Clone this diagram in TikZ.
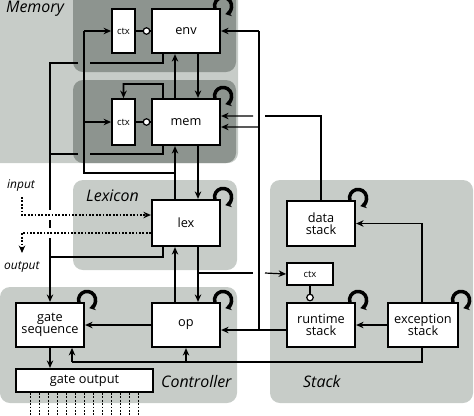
\documentclass[tikz,border=0pt]{standalone}
\usepackage{fontspec}
\setmainfont{Open Sans}
\usetikzlibrary{arrows.meta,calc}
\definecolor{lightreg}{RGB}{199,204,200}
\definecolor{darkreg}{RGB}{141,148,143}
\tikzset{
 box/.style={draw, line width=2.2bp, fill=white, inner sep=0pt, minimum width=68bp, minimum height=44bp, align=center, font=\fontsize{12.8}{14}\selectfont},
 ctxbox/.style={draw, line width=1.8bp, fill=white, inner sep=0pt, font=\fontsize{9.5}{11}\selectfont},
 lbl/.style={font=\fontsize{16}{18}\selectfont\itshape, inner sep=0pt},
 io/.style={font=\fontsize{12}{14}\selectfont\itshape, inner sep=0pt},
 arr/.style={line width=1.8bp, -{Stealth[length=7.5bp,width=6.5bp]}},
 thinarr/.style={line width=1.2bp, -{Stealth[length=7.5bp,width=6.5bp]}},
 thinline/.style={line width=1.2bp},
 dotline/.style={line width=1.3bp, dash pattern=on 1.8bp off 1.6bp},
 dotarr/.style={line width=1.3bp, dash pattern=on 1.8bp off 1.6bp, -{Stealth[length=7.5bp,width=6.5bp]}},
 loopline/.style={line width=3.5bp, -{Stealth[length=6bp,width=7.5bp]}},
 knob/.style={circle, draw, line width=1.2bp, fill=white, inner sep=0pt, minimum size=6.5bp},
}
\newcommand\selfloopat[1]{\draw[loopline] ([xshift=-6.3bp]#1.north east) arc[start angle=193.6, end angle=-75, radius=8.5bp];}
\begin{document}
\begin{tikzpicture}[x=1bp,y=-1bp]
\useasboundingbox (0,0) rectangle (474,415);
% regions
\fill[lightreg, rounded corners=10bp] (-12,-12) rectangle (238,163);
\fill[darkreg, rounded corners=10bp] (73,-12) rectangle (236,72);
\fill[darkreg, rounded corners=10bp] (73,80) rectangle (236,163);
\fill[lightreg, rounded corners=10bp] (73,180) rectangle (237,270);
\fill[lightreg, rounded corners=10bp] (0,287) rectangle (237,403);
\fill[lightreg, rounded corners=10bp] (270,180) rectangle (473,403);
% region labels
\node[lbl, anchor=base west] (tmem) at (6,12) {Memory};
\node[lbl, anchor=base west] (tlex) at (86,201) {Lexicon};
\node[lbl, anchor=base west] (tctl) at (161,387) {Controller};
\node[lbl, anchor=base west] (tstk) at (303,387) {Stack};
\node[io, anchor=base west] (tin) at (7,188) {input};
\node[io, anchor=base west] (tout) at (4,269) {output};
% boxes
\node[ctxbox, minimum width=23bp, minimum height=44bp] (ctxA) at (123.5,31) {ctx};
\node[box] (env) at (186,31) {env};
\node[ctxbox, minimum width=23bp, minimum height=46bp] (ctxB) at (123.5,122) {ctx};
\node[box, minimum height=46bp] (mem) at (186,122) {mem};
\node[box, minimum height=46bp] (lex) at (186,223) {lex};
\node[box] (op) at (186,325) {op};
\node[box] (gs) at (50,325) {gate\\[-2bp]sequence};
\node[box, minimum width=137bp, minimum height=23bp] (go) at (84.5,380.5) {gate output};
\node[box, minimum height=45bp] (ds) at (321,223.5) {data\\[-2bp]stack};
\node[ctxbox, minimum width=46bp, minimum height=22bp] (ctxC) at (310,274) {ctx};
\node[box] (rs) at (321,325) {runtime\\[-2bp]stack};
\node[box, minimum width=70bp] (es) at (423,325) {exception\\[-2bp]stack};
% knobs
\node[knob] (kA) at (146.5,31) {};
\node[knob] (kB) at (146.5,122) {};
\node[knob] (kC) at (310,297.5) {};
\draw[thinline] (ctxA.east) -- (kA.west);
\draw[thinline] (kA.east) -- (env.west);
\draw[thinline] (ctxB.east) -- (kB.west);
\draw[thinline] (kB.east) -- (mem.west);
\draw[line width=1.5bp] (ctxC.south) -- (kC.north);
% memory internals
\draw[arr] ([xshift=-11bp]mem.north) -- ([xshift=-11bp]env.south);
\draw[arr] ([xshift=12bp]env.south) -- ([xshift=12bp]mem.north);
\draw[arr] ([xshift=-23bp]mem.north) -- (163,84) -| (ctxB.north);
% lex -> mem and ctx feeds
\draw[arr] ([xshift=-11bp]lex.north) -- ([xshift=-11bp]mem.south);
\coordinate (j1) at (175,173);
\draw[thinline] (j1) -- (84,173) -- (84,31);
\draw[thinarr] (84,31) -- (ctxA.west);
\draw[thinarr] (84,122) -- (ctxB.west);
% feeds to gate sequence
\draw[thinline] ([xshift=-23bp]env.south) |- (90,63);
\draw[thinline] (78,63) -- (50,63) -- (50,210);
\draw[thinline] ([xshift=-23bp]mem.south) |- (90,154);
\draw[thinline] (78,154) -- (50,154);
\draw[thinline] ([xshift=-23bp]lex.south) |- (50,257);
\draw[thinline] (50,220) -- (50,228);
\draw[thinarr] (50,238) -- (gs.north);
% input / output
\draw[dotarr] (22,197) |- ([yshift=8bp]lex.west);
\draw[dotarr] ([yshift=-10bp]lex.west) -| (22,253);
% mem -> lex -> op
\draw[arr] ([xshift=12bp]mem.south) -- ([xshift=12bp]lex.north);
\draw[arr] ([xshift=12bp]lex.south) -- ([xshift=12bp]op.north);
\draw[arr] ([xshift=-11bp]op.north) -- ([xshift=-11bp]lex.south);
\draw[thinline] (198,273) -- (253,273);
\draw[thinarr] (265,273) -- (ctxC.west);
% controller
\draw[arr, line width=2.1bp] (op.west) -- (gs.east);
\draw[arr, line width=2.1bp] (gs.south) -- (gs.south |- go.north);
\draw[thinline] ([xshift=-1bp]es.south) |- (72,362);
\draw[thinarr] (72,362) -- (72,347.9);
\draw[thinarr] (186,362) -- (op.south);
% runtime stack feeds
\draw[thinarr] ([yshift=-5bp]rs.west) -- ([yshift=-5bp]op.east);
\draw[thinline] (259,330) -- (259,31);
\draw[thinarr] (259,31) -- (env.east);
\draw[thinarr] (259,127) -- ([yshift=-5bp]mem.east);
% data stack -> mem
\draw[thinline] (ds.north) |- (265,116);
\draw[thinarr] (253,116) -- ([yshift=6bp]mem.east);
% exception stack
\draw[arr] ([xshift=-1bp]es.north) |- (ds.east);
\draw[arr, line width=2.1bp] (es.west) -- (rs.east);
% self loops
\selfloopat{env}
\selfloopat{mem}
\selfloopat{lex}
\selfloopat{op}
\selfloopat{gs}
\selfloopat{ds}
\selfloopat{rs}
\selfloopat{es}
% output pins
\foreach \i in {0,...,12} {
  \draw[dotline] (30.7+9*\i,393) -- (30.7+9*\i,415);
}
\end{tikzpicture}
\end{document}
